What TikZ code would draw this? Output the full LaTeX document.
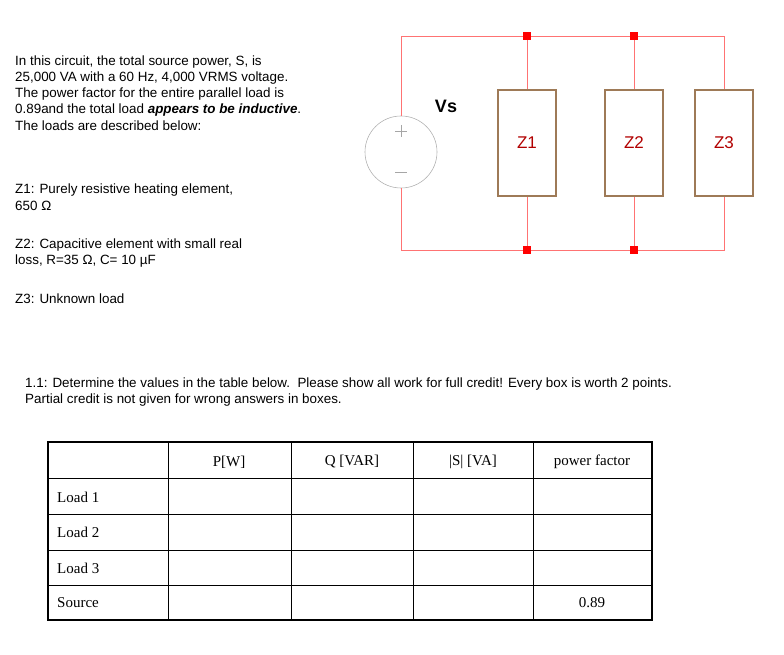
\documentclass[tikz,border=0pt]{standalone}
\usepackage{fontspec}
\setmainfont{Liberation Sans}
\newfontfamily\serif{Liberation Serif}
\begin{document}
\begin{tikzpicture}[x=1pt,y=-1pt,
  wire/.style={draw=red!55!white,line width=0.8pt},
  junc/.style={fill=red,minimum size=8pt,inner sep=0pt},
  load/.style={draw=brown!70!black!80,line width=2pt,fill=white,minimum width=58pt,minimum height=106pt,inner sep=0pt,text=red!70!black,font=\fontsize{17}{17}\selectfont},
  txt/.style={anchor=west,inner sep=0pt,font=\fontsize{13.4}{16}\selectfont},
  cell/.style={font=\serif\fontsize{15}{16}\selectfont,inner sep=0pt}]
\useasboundingbox (0,0) rectangle (784,655);
% circuit
\coordinate (tl) at (401,36); \coordinate (tr) at (724,36);
\coordinate (bl) at (401,250); \coordinate (br) at (724,250);
\coordinate (c1) at (527,36); \coordinate (c2) at (634,36);
\coordinate (c3) at (527,250); \coordinate (c4) at (634,250);
\node[draw=gray!60,circle,minimum size=72pt,inner sep=0pt,line width=0.6pt] (vs) at (401,152) {};
\node[load] (z1) at (527,143) {Z1};
\node[load] (z2) at (634,143) {Z2};
\node[load] (z3) at (724,143) {Z3};
\draw[wire] (vs.north) -- (tl) -- (tr) -- (z3.north);
\draw[wire] (vs.south) -- (bl) -- (br) -- (z3.south);
\draw[wire] (c1) -- (z1.north); \draw[wire] (z1.south) -- (c3);
\draw[wire] (c2) -- (z2.north); \draw[wire] (z2.south) -- (c4);
\node[junc] (j1) at (c1) {}; \node[junc] (j2) at (c2) {};
\node[junc] (j3) at (c3) {}; \node[junc] (j4) at (c4) {};
\draw[gray!70,line width=0.5pt] (395,131)--(407,131) (401,125)--(401,137) (395,172)--(407,172);
\node[font=\bfseries\fontsize{18}{18}\selectfont] (vl) at (446,106) {Vs};
% text
\node[txt] (t1) at (15,62) {In this circuit, the total source power, S, is};
\node[txt] (t2) at (15,78) {25,000 VA with a 60 Hz, 4,000 VRMS voltage.};
\node[txt] (t3) at (15,94) {The power factor for the entire parallel load is};
\node[txt] (t4) at (15,110) {0.89and the total load \textbf{\textit{appears to be inductive}}.};
\node[txt] (t5) at (15,126) {The loads are described below:};
\node[txt] (t6) at (15,190) {Z1: Purely resistive heating element,};
\node[txt] (t7) at (15,206) {650 Ω};
\node[txt] (t8) at (15,245) {Z2: Capacitive element with small real};
\node[txt] (t9) at (15,261) {loss, R=35 Ω, C= 10 µF};
\node[txt] (t10) at (15,299) {Z3: Unknown load};
\node[txt] (t11) at (25,384) {1.1: Determine the values in the table below.\ \ Please show all work for full credit! Every box is worth 2 points.};
\node[txt] (t12) at (25,400) {Partial credit is not given for wrong answers in boxes.};
% table
\draw[line width=1.3pt] (48,442) rectangle (652,620);
\foreach \x in {168,291,413,533} \draw[line width=1pt] (\x,442) -- (\x,620);
\foreach \y in {478,514,550,585} \draw[line width=1pt] (48,\y) -- (652,\y);
\node[cell] (h1) at (229,462) {P[W]};
\node[cell] (h2) at (352,462) {Q [VAR]};
\node[cell] (h3) at (473,462) {|S| [VA]};
\node[cell] (h4) at (592,462) {power factor};
\node[cell,anchor=west] (r1) at (57,497) {Load 1};
\node[cell,anchor=west] (r2) at (57,532) {Load 2};
\node[cell,anchor=west] (r3) at (57,568) {Load 3};
\node[cell,anchor=west] (r4) at (57,603) {Source};
\node[cell] (pf) at (592,603) {0.89};
\end{tikzpicture}
\end{document}
